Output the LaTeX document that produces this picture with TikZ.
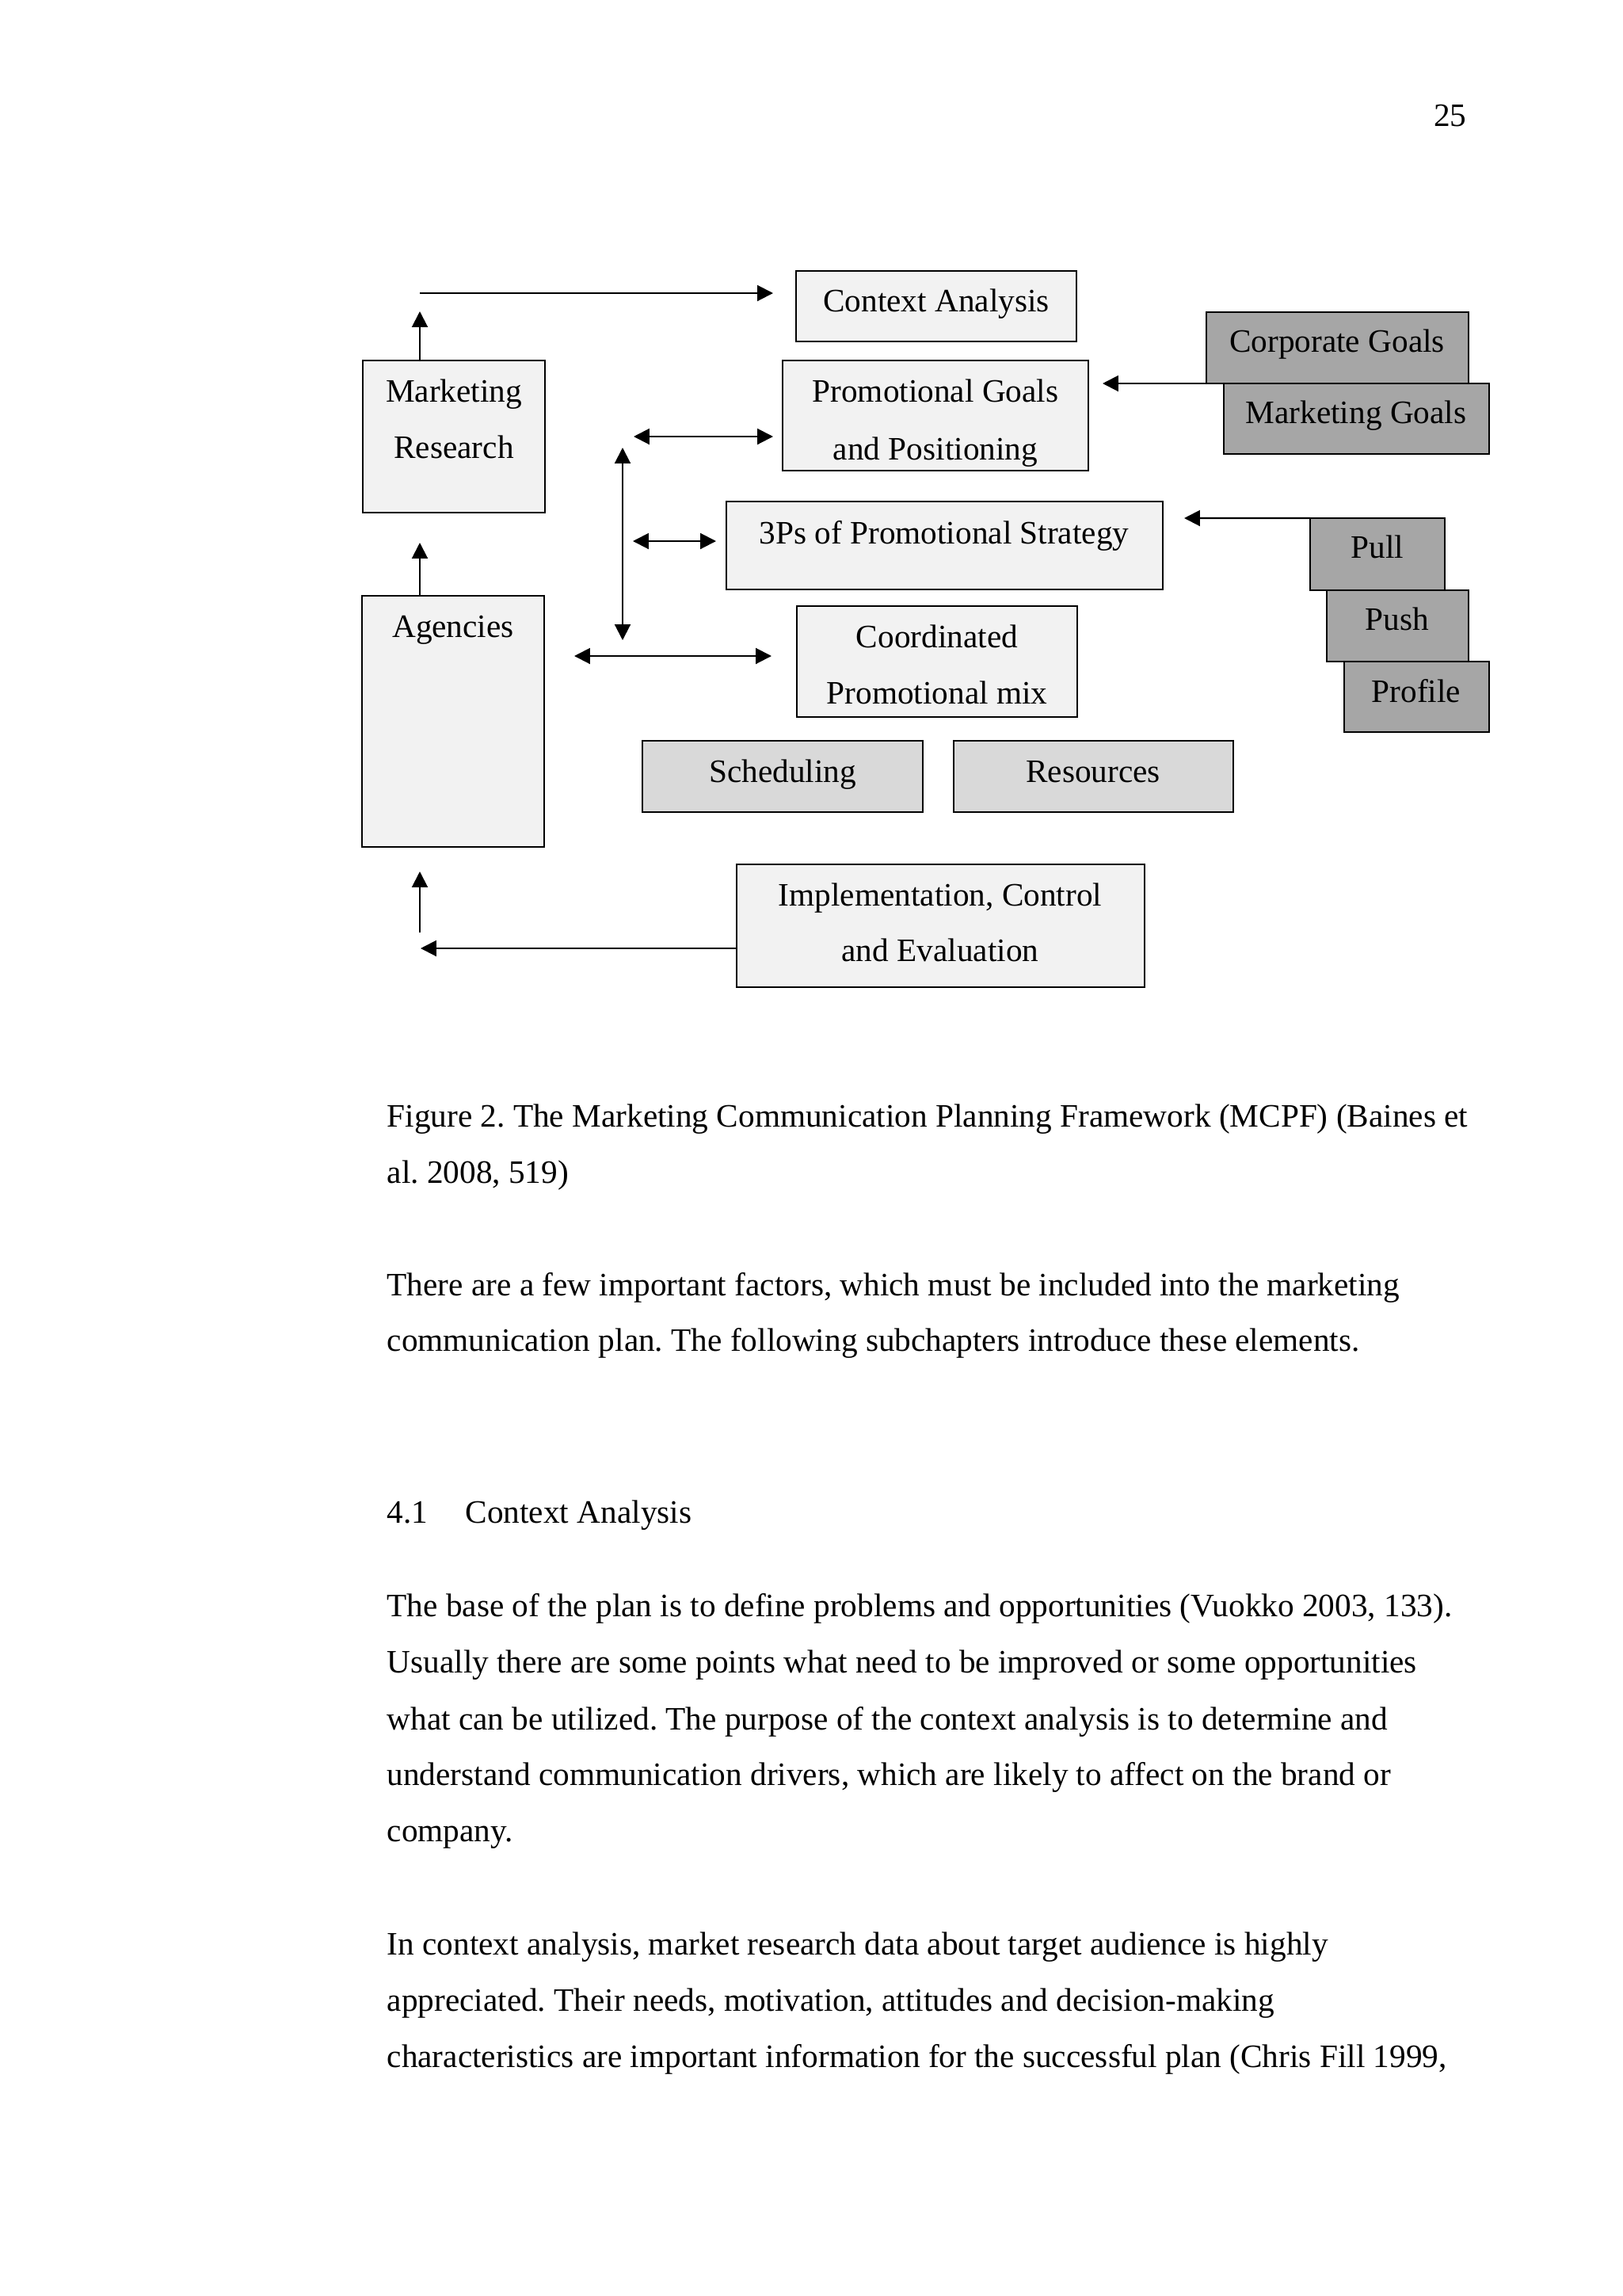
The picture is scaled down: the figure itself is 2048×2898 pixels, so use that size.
\documentclass[tikz,border=0pt]{standalone}
\usepackage{fontspec}
\setmainfont{Liberation Serif}
\usetikzlibrary{arrows.meta,fit}
\definecolor{lightbox}{HTML}{F2F2F2}
\definecolor{midbox}{HTML}{D9D9D9}
\definecolor{darkbox}{HTML}{A6A6A6}
\frenchspacing
\begin{document}
\begin{tikzpicture}[x=0.29066pt,y=-0.29066pt,
  box/.style={draw=black,line width=0.8pt,inner sep=0pt,outer sep=0pt},
  lbox/.style={box,fill=lightbox},
  mbox/.style={box,fill=midbox},
  dbox/.style={box,fill=darkbox},
  txt/.style={anchor=base,inner sep=0pt,font=\fontsize{12}{14.4}\selectfont},
  body/.style={anchor=base west,inner sep=0pt,font=\fontsize{12}{14.4}\selectfont},
  arr/.style={line width=0.6pt,-{Triangle[length=5.8pt,width=5.8pt]}},
  darr/.style={line width=0.6pt,{Triangle[length=5.8pt,width=5.8pt]}-{Triangle[length=5.8pt,width=5.8pt]}}]
\fill[white] (0,0) rectangle (2048,2898);
\useasboundingbox (0,0) rectangle (2048,2898);

% page number
\node[anchor=base east,inner sep=0pt,font=\fontsize{12}{14.4}\selectfont] (pnum) at (1852,159) {25};

% boxes
\node[lbox,fit={(1005,342) (1359,431)}] (ctx) {};
\node[lbox,fit={(458,455) (688,647)}] (mr) {};
\node[lbox,fit={(988,455) (1374,594)}] (pg) {};
\node[dbox,fit={(1523,394) (1854,484)}] (corp) {};
\node[dbox,fit={(1545,484) (1880,573)}] (mg) {};
\node[lbox,fit={(917,633) (1468,744)}] (ps) {};
\node[lbox,fit={(457,752) (687,1069)}] (ag) {};
\node[lbox,fit={(1006,765) (1360,905)}] (cpm) {};
\node[dbox,fit={(1654,654) (1824,745)}] (pull) {};
\node[dbox,fit={(1675,745) (1854,835)}] (push) {};
\node[dbox,fit={(1697,835) (1880,924)}] (prof) {};
\node[mbox,fit={(811,935) (1165,1025)}] (sched) {};
\node[mbox,fit={(1204,935) (1557,1025)}] (res) {};
\node[lbox,fit={(930,1091) (1445,1246)}] (impl) {};

% box texts
\node[txt] (ctxT) at (1182,393) {Context Analysis};
\node[txt] (mrT1) at (573,507) {Marketing};
\node[txt] (mrT2) at (573,578) {Research};
\node[txt] (pgT1) at (1181,507) {Promotional Goals};
\begin{scope}
\clip (988,455) rectangle (1374,593);
\node[txt] (pgT2) at (1181,580) {and Positioning};
\end{scope}
\draw[line width=0.8pt] (pg.south west) -- (pg.south east);
\node[txt] (corpT) at (1688,444) {Corporate Goals};
\node[txt] (mgT) at (1712,534) {Marketing Goals};
\node[txt] (psT) at (1192,686) {3Ps of Promotional Strategy};
\node[txt] (agT) at (572,804) {Agencies};
\node[txt] (cpmT1) at (1183,817) {Coordinated};
\node[txt] (cpmT2) at (1183,888) {Promotional mix};
\node[txt] (pullT) at (1739,704) {Pull};
\node[txt] (pushT) at (1764,795) {Push};
\node[txt] (profT) at (1788,886) {Profile};
\node[txt] (schedT) at (988,987) {Scheduling};
\node[txt] (resT) at (1380,987) {Resources};
\node[txt] (implT1) at (1187,1143) {Implementation, Control};
\node[txt] (implT2) at (1187,1213) {and Evaluation};

% free connector ends
\coordinate (mrUp) at (530,393);
\coordinate (topS) at (530,370);
\coordinate (topE) at (976,370);
\coordinate (agUp) at (530,685);
\coordinate (d1a) at (800,551);
\coordinate (d1b) at (976,551);
\coordinate (vA) at (786,565);
\coordinate (vB) at (786,808);
\coordinate (d2a) at (799,683);
\coordinate (d2b) at (904,683);
\coordinate (d3a) at (725,828);
\coordinate (d3b) at (974,828);
\coordinate (goalTip) at (1392,484);
\coordinate (pullTip) at (1495,654);
\coordinate (botTip) at (531,1197);
\coordinate (botUpS) at (530,1177);
\coordinate (botUpE) at (530,1100);

% connectors
\draw[arr] (mr.north -| mrUp) -- (mrUp);
\draw[arr] (topS) -- (topE);
\draw[arr] (ag.north -| agUp) -- (agUp);
\draw[darr] (d1a) -- (d1b);
\draw[darr] (vA) -- (vB);
\draw[darr] (d2a) -- (d2b);
\draw[darr] (d3a) -- (d3b);
\draw[arr] (corp.south west) -- (goalTip);
\draw[arr] (pull.north west) -- (pullTip);
\draw[arr] (impl.west |- botTip) -- (botTip);
\draw[arr] (botUpS) -- (botUpE);

% caption and body text
\node[body] (cap1) at (488,1422) {Figure 2. The Marketing Communication Planning Framework (MCPF) (Baines et};
\node[body] (cap2) at (488,1493) {al. 2008, 519)};
\node[body] (p1a) at (488,1635) {There are a few important factors, which must be included into the marketing};
\node[body] (p1b) at (488,1705) {communication plan. The following subchapters introduce these elements.};
\node[body] (hnum) at (488,1922) {4.1};
\node[body] (htxt) at (587,1922) {Context Analysis};
\node[body] (p2a) at (488,2040) {The base of the plan is to define problems and opportunities (Vuokko 2003, 133).};
\node[body] (p2b) at (488,2111) {Usually there are some points what need to be improved or some opportunities};
\node[body] (p2c) at (488,2183) {what can be utilized. The purpose of the context analysis is to determine and};
\node[body] (p2d) at (488,2253) {understand communication drivers, which are likely to affect on the brand or};
\node[body] (p2e) at (488,2324) {company.};
\node[body] (p3a) at (488,2467) {In context analysis, market research data about target audience is highly};
\node[body] (p3b) at (488,2538) {appreciated. Their needs, motivation, attitudes and decision-making};
\node[body] (p3c) at (488,2609) {characteristics are important information for the successful plan (Chris Fill 1999,};
\end{tikzpicture}
\end{document}
